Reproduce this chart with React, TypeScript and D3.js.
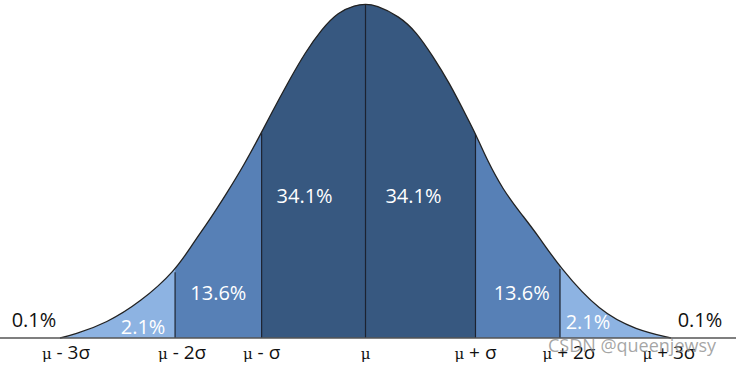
import * as d3 from "d3";
import React from "react";

// curve: x in sigma units (linear), h = height relative to the peak
const curveX = [-3, -2.87, -2.54, -2.21, -1.87, -1.69, -1.53, -1.36, -1.2, -1.02, -0.92, -0.76, -0.59, -0.43, -0.27, -0.1, 0, 0.1, 0.33, 0.5, 0.66, 0.82, 0.99, 1.08, 1.19, 1.35, 1.52, 1.69, 1.91, 2.3, 2.66, 3];
const curveH = [0, 0.009, 0.045, 0.108, 0.2, 0.285, 0.354, 0.435, 0.514, 0.616, 0.675, 0.766, 0.856, 0.925, 0.976, 0.997, 1, 0.997, 0.964, 0.916, 0.844, 0.766, 0.665, 0.612, 0.535, 0.444, 0.375, 0.309, 0.21, 0.078, 0.024, 0];

// where the sigma lines sit in the drawing
const bounds = [-3, -1.87, -1.02, 0, 1.08, 1.91, 3];
const bandPct = ["2.1%", "13.6%", "34.1%", "34.1%", "13.6%", "2.1%"];
const tailPct = ["0.1%", "0.1%"];
const tickLabels = ["- 3σ", "- 2σ", "- σ", "", "+ σ", "+ 2σ", "+ 3σ"];

const bandColors = ["#8db3e2", "#5780b6", "#375880", "#375880", "#5780b6", "#8db3e2"];

const width = 736;
const height = 365;
const baseY = 338;
const topY = 4;

const App = () => {
  const x = d3.scaleLinear().domain([-3, 3]).range([60, 671]);
  const y = d3.scaleLinear().domain([0, 1]).range([baseY, topY]);

  const pts = curveX.map((v, i) => ({ x: v, h: curveH[i] }));
  // basis smooths out the jitter of the hand-read points
  const area = d3
    .area<{ x: number; h: number }>()
    .x((d) => x(d.x))
    .y0(baseY)
    .y1((d) => y(d.h))
    .curve(d3.curveBasis);
  const line = d3
    .line<{ x: number; h: number }>()
    .x((d) => x(d.x))
    .y((d) => y(d.h))
    .curve(d3.curveBasis);

  const hAt = (b: number) => curveH[curveX.indexOf(b)];
  const font = "'Open Sans', 'Liberation Sans', sans-serif";

  const labelPos = (i: number) => {
    const a = x(bounds[i]);
    const b = x(bounds[i + 1]);
    if (i === 0) return { x: b - 32, y: 327 };
    if (i === 5) return { x: a + 28, y: 322 };
    if (i === 1 || i === 4) return { x: (a + b) / 2 + (i === 4 ? 4 : 0), y: 293 };
    return { x: (a + b) / 2 + (i === 2 ? -9 : -7), y: 196 };
  };

  return (
    <svg
      width={width}
      height={height}
      style={{ position: "absolute", left: 0, top: 0, background: "#fff" }}
    >
      <defs>
        {bandColors.map((c, i) => (
          <clipPath id={`band${i}`} key={i}>
            <rect x={x(bounds[i])} y={0} width={x(bounds[i + 1]) - x(bounds[i])} height={baseY} />
          </clipPath>
        ))}
      </defs>
      {bandColors.map((c, i) => (
        <path key={i} d={area(pts) ?? ""} fill={c} clipPath={`url(#band${i})`} />
      ))}
      {bounds.slice(1, -1).map((b) => (
        <line key={b} x1={x(b)} x2={x(b)} y1={baseY} y2={y(hAt(b)) + 1} stroke="#1c2230" strokeWidth={1.2} />
      ))}
      <path d={line(pts) ?? ""} fill="none" stroke="#222" strokeWidth={1.3} />
      <line x1={0} x2={width} y1={baseY} y2={baseY} stroke="#555" strokeWidth={1.5} />

      {bandPct.map((t, i) => {
        const p = labelPos(i);
        return (
          <text key={i} x={p.x} y={p.y} dy="0.35em" textAnchor="middle" fill="#fff" fontFamily={font} fontSize={20}>
            {t}
          </text>
        );
      })}
      {tailPct.map((t, i) => (
        <text
          key={i}
          x={i === 0 ? x(-3) - 26 : x(3) + 29}
          y={320}
          dy="0.35em"
          textAnchor="middle"
          fill="#111"
          fontFamily={font}
          fontSize={20}
        >
          {t}
        </text>
      ))}
      {tickLabels.map((t, i) => (
        <text
          key={i}
          x={x(bounds[i]) + (i === 0 ? 6 : i === 1 ? 7 : i === 5 ? 9 : i === 6 ? -2 : 0)}
          y={352}
          dy="0.35em"
          textAnchor="middle"
          fill="#111"
          fontFamily={font}
          fontSize={19}
        >
          <tspan fontFamily="'DejaVu Serif', serif" fontSize={15}>μ</tspan>
          {t ? ` ${t}` : ""}
        </text>
      ))}
      <text x={632} y={346} dy="0.35em" textAnchor="middle" fill="#888" fillOpacity={0.75} fontFamily={font} fontSize={18}>
        CSDN @queenjewsy
      </text>
    </svg>
  );
};

export default App;
